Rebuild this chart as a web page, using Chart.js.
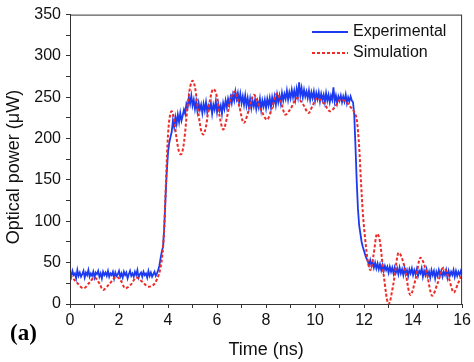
<!DOCTYPE html>
<html>
<head>
<meta charset="utf-8">
<script src="https://cdn.jsdelivr.net/npm/chart.js@4.4.0/dist/chart.umd.min.js"></script>
<style>
  body { margin: 0; background: #fff; }
  #wrap { width: 474px; height: 362px; position: relative; }
</style>
</head>
<body>
<div id="wrap"><canvas id="pulse-chart"></canvas></div>
<script>
// experimental trace, sampled every 0.05 ns from 0 to 16 ns
var expStart = 0;
var expStep = 0.05;
var expPower = [
  39,33,40,35,37,31,41,34,38,33,
  36,40,32,38,35,41,33,37,34,39,
  32,38,36,40,33,37,31,39,35,38,
  34,40,33,37,35,39,31,38,34,36,
  40,33,37,32,39,35,38,31,36,40,
  34,37,33,39,35,41,32,36,38,33,
  39,35,37,32,40,34,38,33,36,39,
  34,37,41,47,56,64,70,95,130,160,
  183,195,202,208,222,214,226,218,229,220,
  231,222,228,235,230,242,238,250,242,252,
  240,247,236,245,233,243,235,241,231,242,
  234,244,232,240,236,243,230,241,235,245,
  232,242,234,240,230,243,236,246,238,248,
  241,250,243,253,246,257,248,255,244,254,
  243,251,241,252,240,249,238,248,237,246,
  239,247,236,245,238,248,235,246,239,247,
  237,248,240,249,238,250,242,251,241,253,
  244,252,243,255,246,254,248,258,247,256,
  249,259,250,258,248,260,251,268,252,261,
  250,259,251,257,249,258,247,256,249,257,
  246,255,248,256,245,254,247,253,244,255,
  246,253,244,252,247,262,245,252,243,251,
  246,252,244,251,245,253,243,250,245,251,
  246,244,228,190,148,115,95,85,75,69,
  64,59,55,52,47,53,46,51,44,50,
  43,49,42,48,41,47,40,46,41,45,
  38,45,39,44,37,44,38,43,36,44,
  37,42,35,43,36,41,34,42,37,43,
  35,41,36,42,34,40,37,43,33,40,
  35,42,34,39,32,41,35,40,31,39,
  34,41,35,40,33,39,35,41,32,40,
  34,39,35,41,33,40,34,39,35,40,
  36
];

// simulation trace (smooth, read at extrema and in between)
var simTime = [
  0, 0.25, 0.55, 0.8, 1.0, 1.2, 1.35, 1.6, 1.9, 2.1,
  2.25, 2.5, 2.7, 2.95, 3.2, 3.4, 3.55, 3.7, 3.8, 3.87,
  3.93, 4.0, 4.08, 4.15, 4.25, 4.35, 4.45, 4.53, 4.65, 4.8,
  4.9, 5.0, 5.1, 5.25, 5.35, 5.44, 5.55, 5.7, 5.85, 6.0,
  6.1, 6.26, 6.4, 6.55, 6.73, 6.9, 7.09, 7.3, 7.5, 7.75,
  8.04, 8.25, 8.45, 8.6, 8.79, 9.0, 9.27, 9.5, 9.74, 9.9,
  10.08, 10.35, 10.62, 10.8, 11.03, 11.25, 11.45, 11.6, 11.71, 11.8,
  11.87, 11.95, 12.05, 12.15, 12.26, 12.38, 12.53, 12.65, 12.8, 13.0,
  13.2, 13.41, 13.65, 13.89, 14.1, 14.3, 14.55, 14.78, 15.0, 15.25,
  15.45, 15.66, 15.85, 16.0
];
var simPower = [
  35, 27, 19, 26, 32, 25, 17, 24, 33, 27,
  19, 24, 32, 27, 21, 23, 30, 45, 70, 110,
  160, 205, 228, 233, 222, 200, 184, 181, 195, 240,
  262, 270, 262, 228, 210, 205, 215, 245, 260, 250,
  228, 211, 225, 248, 257, 240, 219, 235, 253, 238,
  223, 238, 255, 245, 229, 236, 249, 242, 231, 240,
  249, 243, 233, 238, 247, 245, 238, 232, 221, 190,
  150, 110, 77, 52, 41, 58, 85, 75, 35, 0,
  25, 62, 45, 11, 30, 56, 38, 10, 25, 44,
  32, 14, 26, 35
];

var seriesNames = ["Experimental", "Simulation"];
var yTitle = "Optical power (\u03bcW)";
var xTicksMajor = 2;
var yTicksMajor = 50;

var expColor = "rgb(28,58,240)";
var simColor = "rgb(236,44,40)";
var axisColor = "#333";
var fontSans = "'Liberation Sans', Arial, sans-serif";

var expPoints = [];
for (var i = 0; i < expPower.length; i++) {
    expPoints.push({ x: expStart + i * expStep, y: expPower[i] });
}
var simPoints = [];
for (var j = 0; j < simTime.length; j++) {
    simPoints.push({ x: simTime[j], y: simPower[j] });
}

// frame, inset legend, y title and panel tag
var extras = {
    id: "extras",
    afterDraw: function(chart) {
        var ctx = chart.ctx;
        var a = chart.chartArea;
        ctx.save();
        ctx.strokeStyle = axisColor;
        ctx.lineWidth = 1;
        ctx.strokeRect(a.left + 0.5, a.top + 0.5, a.right - a.left - 1, a.bottom - a.top);

        var rows = [
            { name: seriesNames[0], color: expColor, dash: [], y: 32 },
            { name: seriesNames[1], color: simColor, dash: [3, 2], y: 53 }
        ];
        ctx.font = "16px " + fontSans;
        ctx.textBaseline = "middle";
        ctx.fillStyle = "#111";
        rows.forEach(function(r) {
            ctx.beginPath();
            ctx.setLineDash(r.dash);
            ctx.strokeStyle = r.color;
            ctx.lineWidth = 2;
            ctx.moveTo(312, r.y);
            ctx.lineTo(348, r.y);
            ctx.stroke();
            ctx.setLineDash([]);
            ctx.fillText(r.name, 353, r.y);
        });

        // y axis title, a little below the middle as in the original
        ctx.save();
        ctx.translate(14, 167);
        ctx.rotate(-Math.PI / 2);
        ctx.textAlign = "center";
        ctx.font = "18px " + fontSans;
        ctx.fillText(yTitle, 0, 0);
        ctx.restore();

        ctx.font = "bold 23px 'Liberation Serif', 'Times New Roman', serif";
        ctx.fillStyle = "#000";
        ctx.fillText("(a)", 10, 334);
        ctx.restore();
    }
};

var ctx = document.getElementById("pulse-chart");

var chartData = {
    datasets: [{
        label: seriesNames[0],
        data: expPoints,
        borderColor: expColor,
        borderWidth: 1.8,
        pointRadius: 0,
        tension: 0,
        order: 1
    }, {
        label: seriesNames[1],
        data: simPoints,
        borderColor: simColor,
        borderWidth: 2,
        borderDash: [3, 2],
        pointRadius: 0,
        cubicInterpolationMode: "monotone",
        order: 0
    }]
};

var config = {
    type: "line",
    data: chartData,
    plugins: [extras],
    options: {
        responsive: true,
        maintainAspectRatio: false,
        animation: false,
        layout: { padding: { left: 0, right: 11, top: 13, bottom: 0 } },
        plugins: {
            legend: { display: false },
            tooltip: { enabled: false }
        },
        scales: {
            x: {
                type: "linear",
                min: 0,
                max: 16,
                afterFit: function(s) { s.height = 58; },
                border: { display: true, color: axisColor, width: 1 },
                grid: { drawOnChartArea: false, drawTicks: true, tickLength: 4, color: axisColor },
                ticks: {
                    stepSize: 1,
                    autoSkip: false,
                    maxRotation: 0,
                    padding: 3,
                    color: "#111",
                    font: { family: fontSans, size: 16 },
                    callback: function(v) { return v % xTicksMajor === 0 ? v : ""; }
                },
                title: {
                    display: true,
                    text: "Time (ns)",
                    color: "#111",
                    padding: { top: 0, bottom: 1 },
                    font: { family: fontSans, size: 18 }
                }
            },
            y: {
                min: 0,
                max: 350,
                afterFit: function(s) { s.width = 70; },
                border: { display: true, color: axisColor, width: 1 },
                grid: { drawOnChartArea: false, drawTicks: true, tickLength: 4, color: axisColor },
                ticks: {
                    stepSize: 25,
                    autoSkip: false,
                    padding: 5,
                    color: "#111",
                    font: { family: fontSans, size: 16 },
                    callback: function(v) { return v % yTicksMajor === 0 ? v : ""; }
                },
                title: { display: false }
            }
        }
    }
};

var pulseChart = new Chart(ctx, config);
</script>
</body>
</html>
